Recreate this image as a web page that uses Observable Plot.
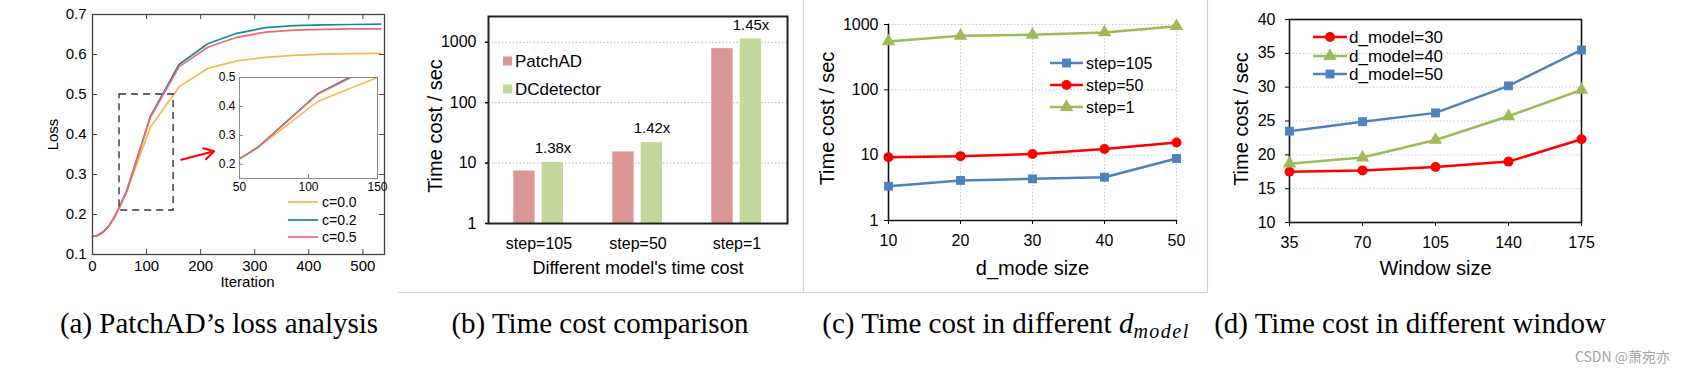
<!DOCTYPE html>
<html><head><meta charset="utf-8">
<script src="https://cdn.jsdelivr.net/npm/d3@7"></script>
<script src="https://cdn.jsdelivr.net/npm/@observablehq/plot@0.6"></script>
<style>
html,body{margin:0;padding:0;background:#fff;}
#root{position:relative;width:1686px;height:372px;overflow:hidden;background:#fff;}
.cap{position:absolute;top:309px;font-family:"Liberation Serif","Times New Roman",serif;font-size:29px;line-height:29px;white-space:nowrap;color:#000;transform:translateX(-50%);}
.wm{position:absolute;top:348px;right:16px;font-family:"Noto Sans CJK SC","Noto Sans",sans-serif;font-size:14px;line-height:16px;color:#a3a3a3;white-space:nowrap;}
</style></head><body><div id="root"></div>
<script>
// ---------- (a) loss analysis ----------
const lossIter = [0, 10, 20, 30, 40, 50, 63, 107, 160, 213, 267, 320, 373, 427, 480, 533];
const lossC00 = [0.145, 0.148, 0.157, 0.171, 0.192, 0.219, 0.257, 0.418, 0.519, 0.565, 0.584, 0.593, 0.598, 0.601, 0.602, 0.603];
const lossC02 = [0.145, 0.148, 0.157, 0.171, 0.192, 0.219, 0.258, 0.445, 0.575, 0.627, 0.653, 0.667, 0.672, 0.674, 0.675, 0.676];
const lossC05 = [0.145, 0.148, 0.157, 0.171, 0.192, 0.219, 0.257, 0.443, 0.569, 0.618, 0.643, 0.656, 0.661, 0.663, 0.664, 0.664];
const lossSeries = ["c=0.0", "c=0.2", "c=0.5"];
const lossXTicks = [0, 100, 200, 300, 400, 500];
const lossYTicks = [0.1, 0.2, 0.3, 0.4, 0.5, 0.6, 0.7];
const insetXTicks = [50, 100, 150];
const insetYTicks = [0.2, 0.3, 0.4, 0.5];
const zoomBox = [{x1: 50, x2: 150, y1: 0.21, y2: 0.5}];
const zoomArrow = [{x1: 164, y1: 0.337, x2: 225, y2: 0.358}];

// ---------- (b) time cost comparison ----------
const steps = ["step=105", "step=50", "step=1"];
const patchAD = [7.4, 15.3, 784];
const dcDetector = [10.3, 21.8, 1135];
const ratioLabels = ["1.38x", "1.42x", "1.45x"];
const barSeries = ["PatchAD", "DCdetector"];
const logTicks = [1, 10, 100, 1000];

// ---------- (c) d_model ----------
const dModel = [10, 20, 30, 40, 50];
const step105 = [3.35, 4.1, 4.34, 4.6, 8.9];
const step50 = [9.3, 9.66, 10.4, 12.4, 15.6];
const step1 = [550, 671, 695, 755, 943];
const cSeries = ["step=105", "step=50", "step=1"];

// ---------- (d) window ----------
const windowSize = [35, 70, 105, 140, 175];
const dm30 = [17.5, 17.7, 18.2, 19.0, 22.3];
const dm40 = [18.7, 19.6, 22.2, 25.7, 29.6];
const dm50 = [23.5, 24.9, 26.2, 30.2, 35.5];
const dSeries = ["d_model=30", "d_model=40", "d_model=50"];
const dYTicks = [10, 15, 20, 25, 30, 35, 40];

// ---------- styles ----------
const SANS = '"Liberation Sans", Arial, Helvetica, sans-serif';
const lossColors = ["#F8B648", "#16899A", "#F26868"];
const barColors = ["#D99694", "#C3D69B"];
const cColors = ["#4F81BD", "#FF0000", "#9BBB59"];
const cSymbols = ["square", "circle", "triangle"];
const dColors = ["#FF0000", "#9BBB59", "#4F81BD"];
const dSymbols = ["circle", "triangle", "square"];

const root = document.getElementById("root");
function place(node, left, top) {
  node.style.position = "absolute";
  node.style.left = left + "px";
  node.style.top = top + "px";
  root.appendChild(node);
}
const baseStyle = (fs) => ({fontFamily: SANS, fontSize: fs + "px", color: "#000", background: "transparent", overflow: "visible"});
const yTitle = (t, dx, dy, fs) => Plot.text([t], {frameAnchor: "left", rotate: -90, dx, dy, text: d => d, fontSize: fs, textAnchor: "middle", lineAnchor: "middle"});
const xTitle = (t, dx, dy, fs) => Plot.text([t], {frameAnchor: "bottom", dx, dy, text: d => d, fontSize: fs, textAnchor: "middle", lineAnchor: "middle"});

// ===== (a) main =====
const lossRows = lossSeries.flatMap((s, i) => lossIter.map((it, j) => ({iter: it, loss: [lossC00, lossC02, lossC05][i][j], series: s})));
const aW = 400, aH = 292, aML = 92, aMR = 16, aMT = 14, aMB = 38;
const aFW = aW - aML - aMR, aFH = aH - aMT - aMB;
const plotA = Plot.plot({
  width: aW, height: aH, marginLeft: aML, marginRight: aMR, marginTop: aMT, marginBottom: aMB,
  x: {domain: [0, 540]},
  y: {domain: [0.1, 0.7]},
  color: {domain: lossSeries, range: lossColors},
  style: baseStyle(15),
  marks: [
    Plot.line(lossRows, {x: "iter", y: "loss", stroke: "series", strokeWidth: 1.7}),
    Plot.rect(zoomBox, {x1: "x1", x2: "x2", y1: "y1", y2: "y2", fill: "none", stroke: "#333", strokeWidth: 1.4, strokeDasharray: "7,5"}),
    Plot.arrow(zoomArrow, {x1: "x1", y1: "y1", x2: "x2", y2: "y2", stroke: "#F00", strokeWidth: 2, headLength: 9}),
    Plot.tickX(lossXTicks, {x: d => d, insetTop: aFH - 5, stroke: "#444"}),
    Plot.tickX(lossXTicks, {x: d => d, insetBottom: aFH - 5, stroke: "#444"}),
    Plot.tickY(lossYTicks, {y: d => d, insetRight: aFW - 5, stroke: "#444"}),
    Plot.tickY(lossYTicks, {y: d => d, insetLeft: aFW - 5, stroke: "#444"}),
    Plot.frame({stroke: "#444", strokeWidth: 1.3}),
    Plot.axisX({ticks: lossXTicks, tickSize: 0, tickPadding: 6, label: null}),
    Plot.axisY({ticks: lossYTicks, tickSize: 0, tickPadding: 6, tickFormat: ".1f", label: null}),
    yTitle("Loss", -39, 0, 15),
    xTitle("Iteration", 9, 28, 15)
  ]
});
place(plotA, 0, 0);

// ===== (a) inset =====
const iW = 190, iH = 135, iML = 39, iMR = 13, iMT = 15, iMB = 19;
const plotInset = Plot.plot({
  width: iW, height: iH, marginLeft: iML, marginRight: iMR, marginTop: iMT, marginBottom: iMB,
  x: {domain: [50, 150]},
  y: {domain: [0.151, 0.5]},
  color: {domain: lossSeries, range: lossColors},
  style: baseStyle(12),
  marks: [
    Plot.frame({fill: "white", stroke: "none"}),
    Plot.line(lossRows, {x: "iter", y: "loss", stroke: "series", strokeWidth: 1.5, clip: true}),
    Plot.tickY(insetYTicks, {y: d => d, insetRight: iW - iML - iMR - 4, stroke: "#888"}),
    Plot.tickX(insetXTicks, {x: d => d, insetTop: iH - iMT - iMB - 4, stroke: "#888"}),
    Plot.frame({stroke: "#8a8a8a", strokeWidth: 1}),
    Plot.axisX({ticks: insetXTicks, tickSize: 0, tickPadding: 4, label: null}),
    Plot.axisY({ticks: insetYTicks, tickSize: 0, tickPadding: 4, tickFormat: ".1f", label: null})
  ]
});
place(plotInset, 200, 62);

// ===== (b) bars =====
const rowsPatch = steps.map((s, i) => ({step: s, value: patchAD[i]}));
const rowsDC = steps.map((s, i) => ({step: s, value: dcDetector[i], ratio: ratioLabels[i]}));
const bW = 405, bH = 290, bML = 93, bMR = 13, bMT = 16, bMB = 67;
const band = (bW - bML - bMR) / steps.length;
const plotB = Plot.plot({
  width: bW, height: bH, marginLeft: bML, marginRight: bMR, marginTop: bMT, marginBottom: bMB,
  x: {type: "band", domain: steps, padding: 0},
  y: {type: "log", domain: [1, 2670]},
  style: baseStyle(16),
  marks: [
    Plot.ruleY(logTicks.slice(1), {y: d => d, stroke: "#b5b5b5", strokeDasharray: "1.5,2"}),
    Plot.barY(rowsPatch, {x: "step", y1: d => 1, y2: "value", fill: barColors[0], insetLeft: 24.3, insetRight: band - 46.3}),
    Plot.barY(rowsDC, {x: "step", y1: d => 1, y2: "value", fill: barColors[1], insetLeft: 52.7, insetRight: band - 74.7}),
    Plot.text(rowsDC, {x: "step", y: "value", text: "ratio", dx: 14, dy: -14, fontSize: 15}),
    Plot.frame({stroke: "#222", strokeWidth: 2}),
    Plot.axisY({ticks: logTicks, tickSize: 3, tickPadding: 9, tickFormat: d => String(d), label: null, strokeWidth: 1.5}),
    Plot.axisX({tickSize: 0, tickPadding: 14, label: null}),
    yTitle("Time cost / sec", -53, 6, 20),
    xTitle("Different model's time cost", 0, 45, 18)
  ]
});
place(plotB, 395, 0);

// ===== (c) d_model =====
const cRows = cSeries.flatMap((s, i) => dModel.map((x, j) => ({x, y: [step105, step50, step1][i][j], series: s})));
const cW = 398, cH = 290, cML = 82, cMR = 28, cMT = 24, cMB = 70;
const plotC = Plot.plot({
  width: cW, height: cH, marginLeft: cML, marginRight: cMR, marginTop: cMT, marginBottom: cMB,
  x: {domain: [10, 50]},
  y: {type: "log", domain: [1, 1000]},
  color: {domain: cSeries, range: cColors},
  symbol: {domain: cSeries, range: cSymbols},
  style: baseStyle(16),
  marks: [
    Plot.ruleX(dModel.slice(1), {x: d => d, stroke: "#c8c8c8", strokeDasharray: "1.5,2"}),
    Plot.ruleY(logTicks.slice(1), {y: d => d, stroke: "#c8c8c8", strokeDasharray: "1.5,2"}),
    Plot.frame({anchor: "left", stroke: "#111", strokeWidth: 1.6}),
    Plot.frame({anchor: "bottom", stroke: "#111", strokeWidth: 1.6}),
    Plot.line(cRows, {x: "x", y: "y", stroke: "series", strokeWidth: 2.5}),
    Plot.dot(cRows, {x: "x", y: "y", fill: "series", symbol: "series", r: 5}),
    Plot.axisY({ticks: logTicks, tickSize: 4, tickPadding: 6, tickFormat: d => String(d), label: null}),
    Plot.axisX({ticks: dModel, tickSize: 4, tickPadding: 10, label: null}),
    yTitle("Time cost / sec", -61, -4, 20),
    xTitle("d_mode size", 0, 48, 20)
  ]
});
place(plotC, 806, 0);

// ===== (d) window =====
const dRows = dSeries.flatMap((s, i) => windowSize.map((x, j) => ({x, y: [dm30, dm40, dm50][i][j], series: s})));
const dW = 390, dH = 290, dML = 79, dMR = 19, dMT = 19, dMB = 68;
const plotD = Plot.plot({
  width: dW, height: dH, marginLeft: dML, marginRight: dMR, marginTop: dMT, marginBottom: dMB,
  x: {domain: [35, 175]},
  y: {domain: [10, 40]},
  color: {domain: dSeries, range: dColors},
  symbol: {domain: dSeries, range: dSymbols},
  style: baseStyle(16),
  marks: [
    Plot.ruleY(dYTicks.slice(1, -1), {y: d => d, stroke: "#c8c8c8", strokeDasharray: "1.5,2"}),
    Plot.frame({stroke: "#111", strokeWidth: 1.6}),
    Plot.line(dRows, {x: "x", y: "y", stroke: "series", strokeWidth: 2.5}),
    Plot.dot(dRows, {x: "x", y: "y", fill: "series", symbol: "series", r: 5}),
    Plot.axisY({ticks: dYTicks, tickSize: 4, tickPadding: 10, label: null}),
    Plot.axisX({ticks: windowSize, tickSize: 4, tickPadding: 10, label: null}),
    yTitle("Time cost / sec", -48, -2, 20),
    xTitle("Window size", 0, 46, 20)
  ]
});
place(plotD, 1210, 0);

// ===== overlay: legends and panel borders =====
const ov = d3.create("svg").attr("width", 1686).attr("height", 372)
  .style("position", "absolute").style("left", "0px").style("top", "0px")
  .style("pointer-events", "none").style("font-family", SANS);
root.appendChild(ov.node());

// borders around (b) and (c)
ov.append("path").attr("d", "M398,292.5H1207.5M803.5,0V292.5M1207.5,0V292.5")
  .attr("fill", "none").attr("stroke", "#d4d4d4").attr("stroke-width", 1.2);

const symType = {square: d3.symbolSquare, circle: d3.symbolCircle, triangle: d3.symbolTriangle};
function lineLegend(names, colors, symbols, x0, x1, ys, tx, fs, sw) {
  names.forEach((n, i) => {
    const g = ov.append("g");
    g.append("line").attr("x1", x0).attr("x2", x1).attr("y1", ys[i]).attr("y2", ys[i])
      .attr("stroke", colors[i]).attr("stroke-width", sw);
    if (symbols) {
      g.append("path").attr("transform", `translate(${(x0 + x1) / 2},${ys[i]})`)
        .attr("d", d3.symbol(symType[symbols[i]], 25 * Math.PI)()).attr("fill", colors[i]);
    }
    g.append("text").attr("x", tx).attr("y", ys[i]).attr("dy", "0.35em")
      .attr("font-size", fs).attr("fill", "#000").text(n);
  });
}
lineLegend(lossSeries, lossColors, null, 288, 318, [202, 220, 237], 322, 14, 1.7);
lineLegend(cSeries, cColors, cSymbols, 1050, 1083, [63, 85, 107], 1086, 16, 2.5);
lineLegend(dSeries, dColors, dSymbols, 1313, 1347, [37, 56, 74], 1349, 17, 2.5);
barSeries.forEach((n, i) => {
  const y = [61, 89][i];
  ov.append("rect").attr("x", 503).attr("y", y - 4.5).attr("width", 9).attr("height", 9).attr("fill", barColors[i]);
  ov.append("text").attr("x", 515).attr("y", y).attr("dy", "0.35em").attr("font-size", 17).attr("fill", "#000").text(n);
});

// ===== captions =====
const caps = [
  {x: 219, html: "(a) PatchAD’s loss analysis"},
  {x: 600, html: "(b) Time cost comparison"},
  {x: 1006, html: "(c) Time cost in different <i>d</i><sub style=\"font-size:20px;font-style:italic;vertical-align:-5px;letter-spacing:1.5px;line-height:0\">model</sub>"},
  {x: 1410, html: "(d) Time cost in different window"}
];
caps.forEach(c => {
  const div = document.createElement("div");
  div.className = "cap";
  div.style.left = c.x + "px";
  div.innerHTML = c.html;
  root.appendChild(div);
});
const wm = document.createElement("div");
wm.className = "wm";
wm.textContent = "CSDN @萧宛亦";
root.appendChild(wm);
</script>
</body></html>
